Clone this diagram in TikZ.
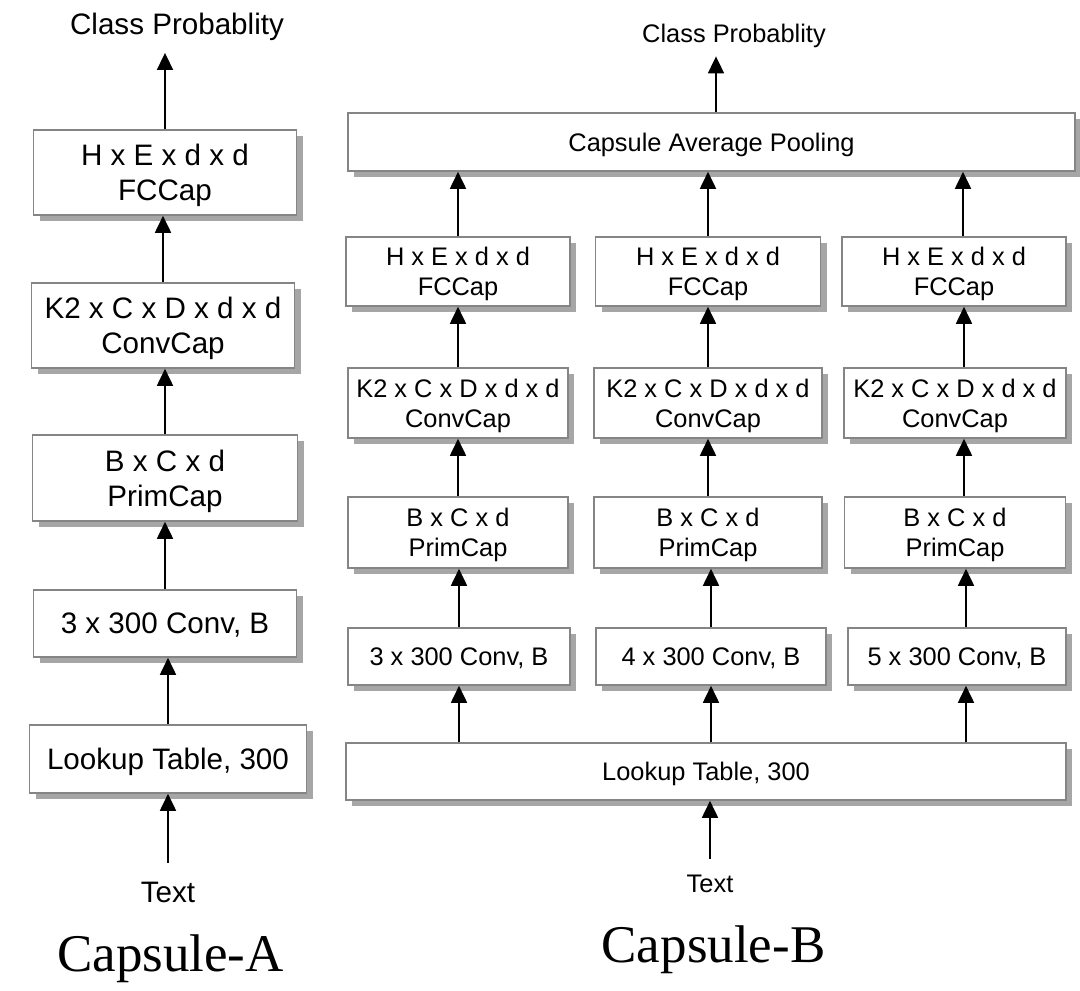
\documentclass[tikz,border=0pt]{standalone}
\usepackage{fontspec}
\setmainfont{Liberation Sans}
\newfontfamily\capfont{Liberation Serif}
\usepackage{tikz}
\usetikzlibrary{arrows.meta,shadows}
\tikzset{
 layer/.style={draw=black!48,line width=1.6pt,fill=white,inner sep=0pt,
   align=center,text depth=0pt,
   drop shadow={shadow xshift=6pt,shadow yshift=-6pt,fill=black!35,opacity=1}},
 twoline/.style={text depth=-4pt},
 bigtext/.style={font=\fontsize{29.6}{35}\selectfont},
 smalltext/.style={font=\fontsize{25.4}{30}\selectfont},
 caption/.style={inner sep=0pt,text depth=0pt,font=\capfont\fontsize{53}{60}\selectfont},
 label text/.style={inner sep=0pt,text depth=0pt},
 flow/.style={-{Triangle[length=17pt,width=16pt]},line width=1.8pt}}

\begin{document}
\begin{tikzpicture}[x=1pt,y=-1pt]
  \useasboundingbox (0,0) rectangle (1080,991);
  % Capsule-A
  \begin{scope}[bigtext]
   \node[label text] (probA) at (177,24) {Class Probablity};
   \node[layer,twoline,minimum width=263pt,minimum height=85pt] (fcA) at (165,172.5) {H x E x d x d\\FCCap};
   \node[layer,twoline,minimum width=263pt,minimum height=85pt] (ccA) at (163,325.5) {K2 x C x D x d x d\\ConvCap};
   \node[layer,twoline,minimum width=265pt,minimum height=86pt] (pcA) at (165,478) {B x C x d\\PrimCap};
   \node[layer,minimum width=263pt,minimum height=67pt] (cvA) at (165,623.5) {3 x 300 Conv, B};
   \node[layer,minimum width=277pt,minimum height=68pt] (lkA) at (168,759) {Lookup Table, 300};
   \node[label text] (txtA) at (168,892) {Text};
  \end{scope}
  \node[caption] (capA) at (170.5,953) {Capsule-A};
  \draw[flow,shorten >=18pt] (fcA.north) -- (fcA.north |- probA.south);
  \draw[flow] (ccA.north) -- (ccA.north |- fcA.south);
  \draw[flow] (pcA.north) -- (pcA.north |- ccA.south);
  \draw[flow] (cvA.north) -- (cvA.north |- pcA.south);
  \draw[flow] (lkA.north) -- (lkA.north |- cvA.south);
  \draw[flow,shorten <=19pt] (txtA.north) -- (txtA.north |- lkA.south);

  % Capsule-B
  \begin{scope}[smalltext]
   \node[label text] (probB) at (734,33) {Class Probablity};
   \node[layer,minimum width=727pt,minimum height=58pt] (pool) at (711.5,142) {Capsule Average Pooling};
   \node[layer,twoline,minimum width=224pt,minimum height=69pt] (fc1) at (458,271.5) {H x E x d x d\\FCCap};
   \node[layer,twoline,minimum width=225pt,minimum height=69pt] (fc2) at (708,271.5) {H x E x d x d\\FCCap};
   \node[layer,twoline,minimum width=224pt,minimum height=69pt] (fc3) at (954,271.5) {H x E x d x d\\FCCap};
   \node[layer,twoline,minimum width=220pt,minimum height=70pt] (cc1) at (458,403) {K2 x C x D x d x d\\ConvCap};
   \node[layer,twoline,minimum width=228pt,minimum height=70pt] (cc2) at (708,403) {K2 x C x D x d x d\\ConvCap};
   \node[layer,twoline,minimum width=222pt,minimum height=70pt] (cc3) at (955,403) {K2 x C x D x d x d\\ConvCap};
   \node[layer,twoline,minimum width=220pt,minimum height=71pt] (pc1) at (458,532.5) {B x C x d\\PrimCap};
   \node[layer,twoline,minimum width=228pt,minimum height=71pt] (pc2) at (708,532.5) {B x C x d\\PrimCap};
   \node[layer,twoline,minimum width=221pt,minimum height=71pt] (pc3) at (955,532.5) {B x C x d\\PrimCap};
   \node[layer,minimum width=222pt,minimum height=57pt] (cv1) at (459,656.5) {3 x 300 Conv, B};
   \node[layer,minimum width=230pt,minimum height=57pt] (cv2) at (711,656.5) {4 x 300 Conv, B};
   \node[layer,minimum width=218pt,minimum height=57pt] (cv3) at (957,656.5) {5 x 300 Conv, B};
   \node[layer,minimum width=720pt,minimum height=57pt] (lkB) at (706,771.5) {Lookup Table, 300};
   \node[label text] (txtB) at (710,884) {Text};
  \end{scope}
  \node[caption] (capB) at (713.5,944) {Capsule-B};
  \draw[flow,shorten >=14pt] ([xshift=4.5pt]pool.north) -- ([xshift=4.5pt]pool.north |- probB.south);
  \foreach \c/\s in {1/0,2/0,3/9}{
   \draw[flow] ([xshift=\s pt]fc\c.north) -- ([xshift=\s pt]fc\c.north |- pool.south);
   \draw[flow] ([xshift=\s pt]cc\c.north) -- ([xshift=\s pt]cc\c.north |- fc\c.south);
   \draw[flow] ([xshift=\s pt]pc\c.north) -- ([xshift=\s pt]pc\c.north |- cc\c.south);
   \draw[flow] ([xshift=\s pt]cv\c.north) -- ([xshift=\s pt]cv\c.north |- pc\c.south);
   \draw[flow] ([xshift=\s pt]cv\c.south |- lkB.north) -- ([xshift=\s pt]cv\c.south);
  }
  \draw[flow,shorten <=16pt] (txtB.north) -- (txtB.north |- lkB.south);
\end{tikzpicture}
\end{document}
